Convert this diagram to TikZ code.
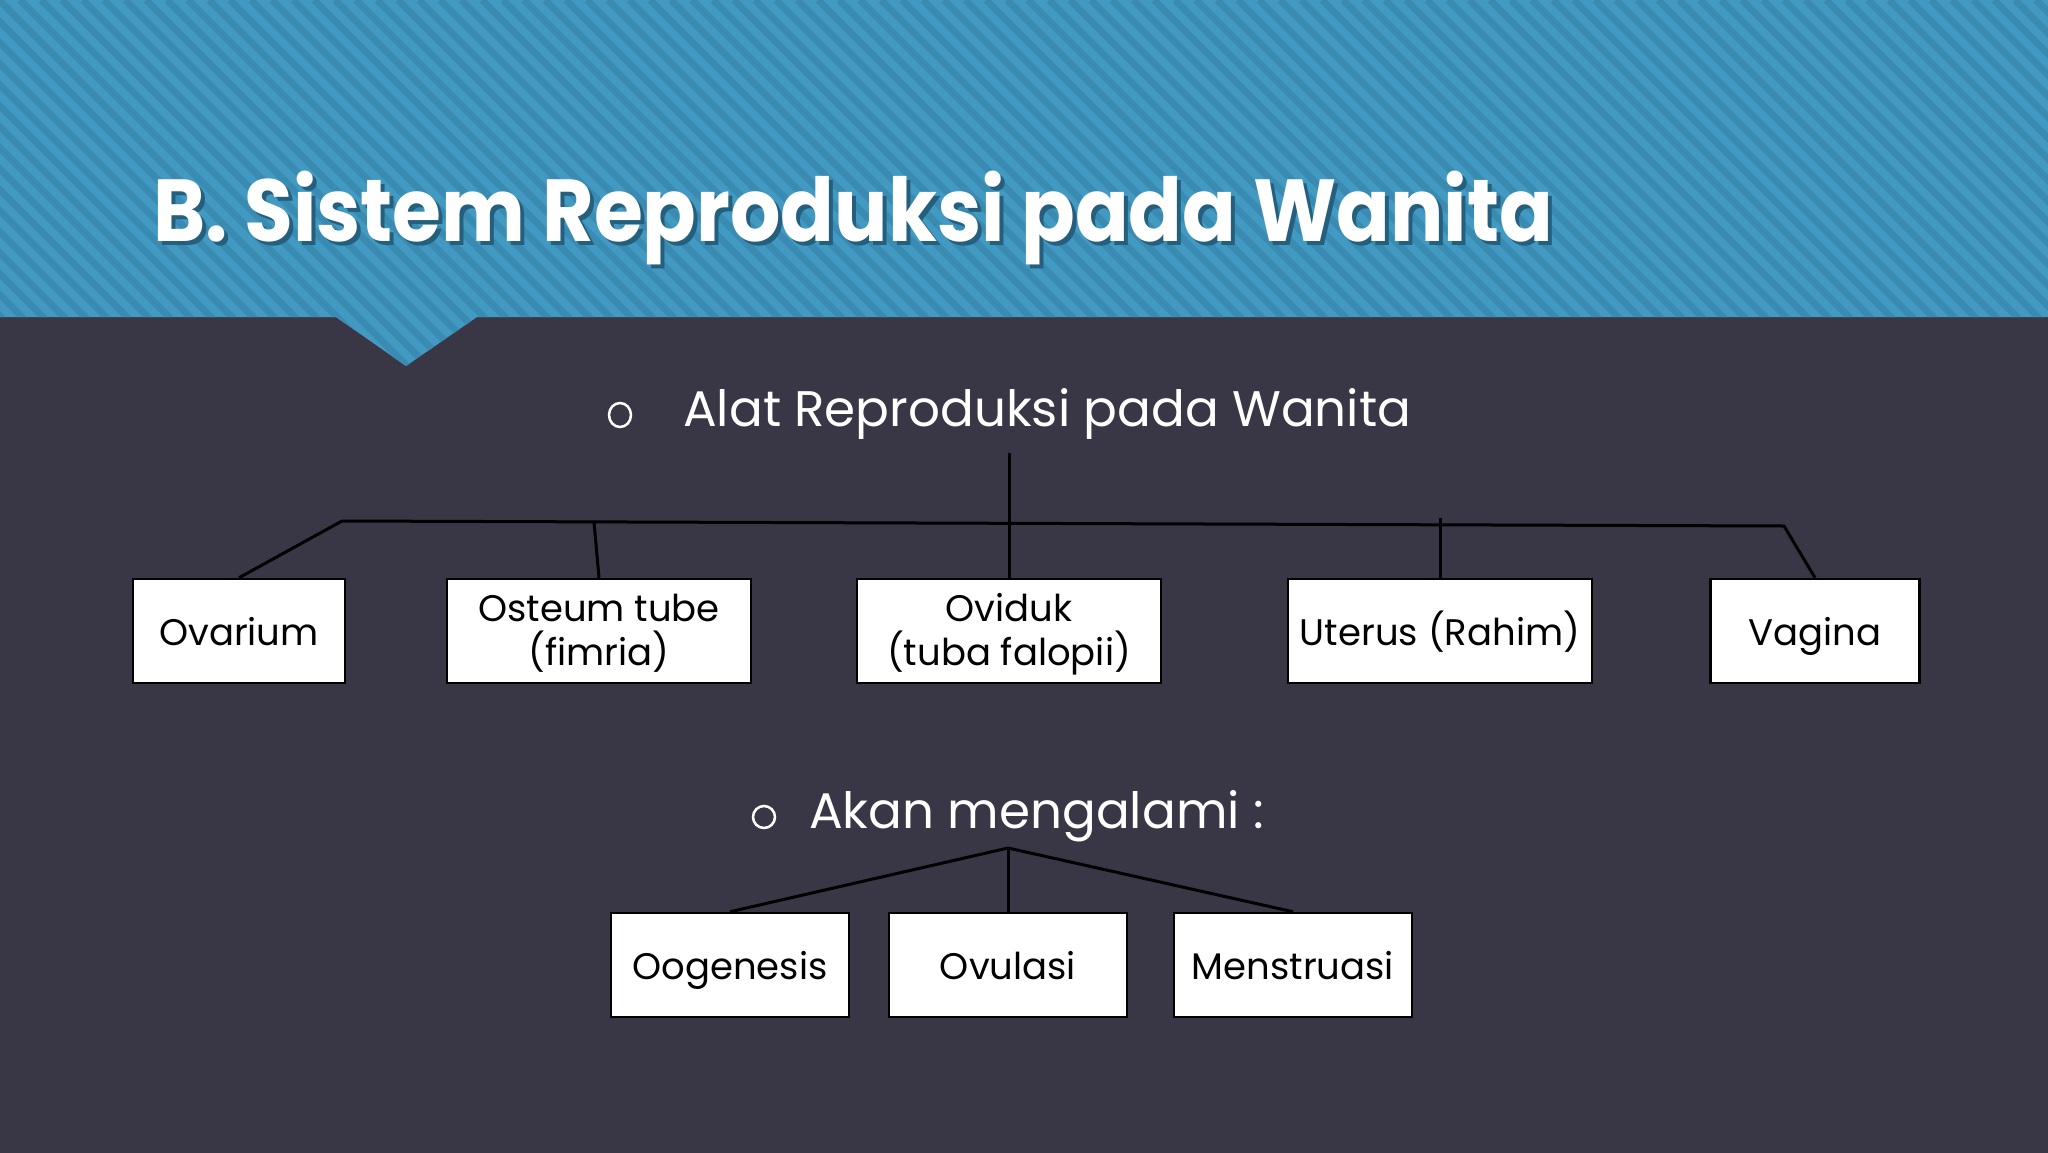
\documentclass[tikz,border=0pt]{standalone}
\usepackage{fontspec}
\setmainfont{Poppins}
\definecolor{bgdark}{HTML}{393646}
\definecolor{bandblue}{HTML}{4299C2}
\definecolor{stripe}{HTML}{3A8BB2}
\definecolor{shadowc}{HTML}{24607E}
\tikzset{
  leaf/.style={draw=black, line width=2.5pt, fill=white, minimum height=104pt, inner sep=0pt, align=center, text=black, font=\fontsize{37}{44}\selectfont},
  oneline/.style={text height=37pt, text depth=9pt},
  twoline/.style={text height=77pt, text depth=9pt},
  conn/.style={draw=black, line width=3pt},
  head/.style={text=white, font=\fontsize{50}{60}\selectfont, inner sep=0pt, anchor=base west},
  bulletc/.style={draw=white, line width=2.5pt},
  titlefont/.style={anchor=base west, inner sep=0pt, xscale=0.9, font=\fontsize{88}{100}\selectfont\bfseries}
}
\begin{document}
\begin{tikzpicture}[x=1pt,y=-1pt]
\useasboundingbox (0,0) rectangle (2048,1152);
\fill[bgdark] (-6,-6) rectangle (2054,1158);
% blue band with notch
\begin{scope}
\clip (-6,-6) -- (2054,-6) -- (2054,317) -- (477,317) -- (406,366) -- (336,317) -- (-6,317) -- cycle;
\fill[bandblue] (-6,-6) rectangle (2054,370);
\foreach \i in {-400,-379,...,2060} {
  \draw[stripe, line width=7pt] (\i,0) -- (\i+380,380);
}
\end{scope}
% title
\node[titlefont, text=shadowc] (titleshadow) at (157,245) {B. Sistem Reproduksi pada Wanita};
\node[titlefont, text=white] (title) at (153,241) {B. Sistem Reproduksi pada Wanita};
% subtitle 1
\draw[bulletc] (620,415) ellipse [x radius=11, y radius=12];
\node[head] (sub1) at (683,426) {Alat Reproduksi pada Wanita};
% boxes row 1
\node[leaf, oneline, minimum width=212pt] (ovarium) at (239,631) {Ovarium};
\node[leaf, twoline, minimum width=304pt] (osteum) at (599,631) {Osteum tube\\(fimria)};
\node[leaf, twoline, minimum width=304pt] (oviduk) at (1009,631) {Oviduk\\(tuba falopii)};
\node[leaf, oneline, minimum width=304pt] (uterus) at (1440,631) {Uterus (Rahim)};
\node[leaf, oneline, minimum width=209pt] (vagina) at (1815,631) {Vagina};
\coordinate (top1) at (1009,453);
\coordinate (barL) at (342,521);
\coordinate (barR) at (1784,526);
\coordinate (ostJ) at (594,522);
\coordinate (utJ) at (1440,518);
\draw[conn] (top1) -- (oviduk.north);
\draw[conn] (ovarium.north) -- (barL) -- (barR) -- (vagina.north);
\draw[conn] (ostJ) -- (osteum.north);
\draw[conn] (utJ) -- (uterus.north);
% subtitle 2
\draw[bulletc] (764,817) ellipse [x radius=11, y radius=11];
\node[head] (sub2) at (809,828) {Akan mengalami :};
% boxes row 2
\node[leaf, oneline, minimum width=238pt] (oogen) at (730,965) {Oogenesis};
\node[leaf, oneline, minimum width=238pt] (ovulasi) at (1008,965) {Ovulasi};
\node[leaf, oneline, minimum width=238pt] (mens) at (1293,965) {Menstruasi};
\coordinate (apex) at (1008,848);
\draw[conn] (apex) -- (oogen.north);
\draw[conn] (apex) -- (ovulasi.north);
\draw[conn] (apex) -- (mens.north);
\end{tikzpicture}
\end{document}
